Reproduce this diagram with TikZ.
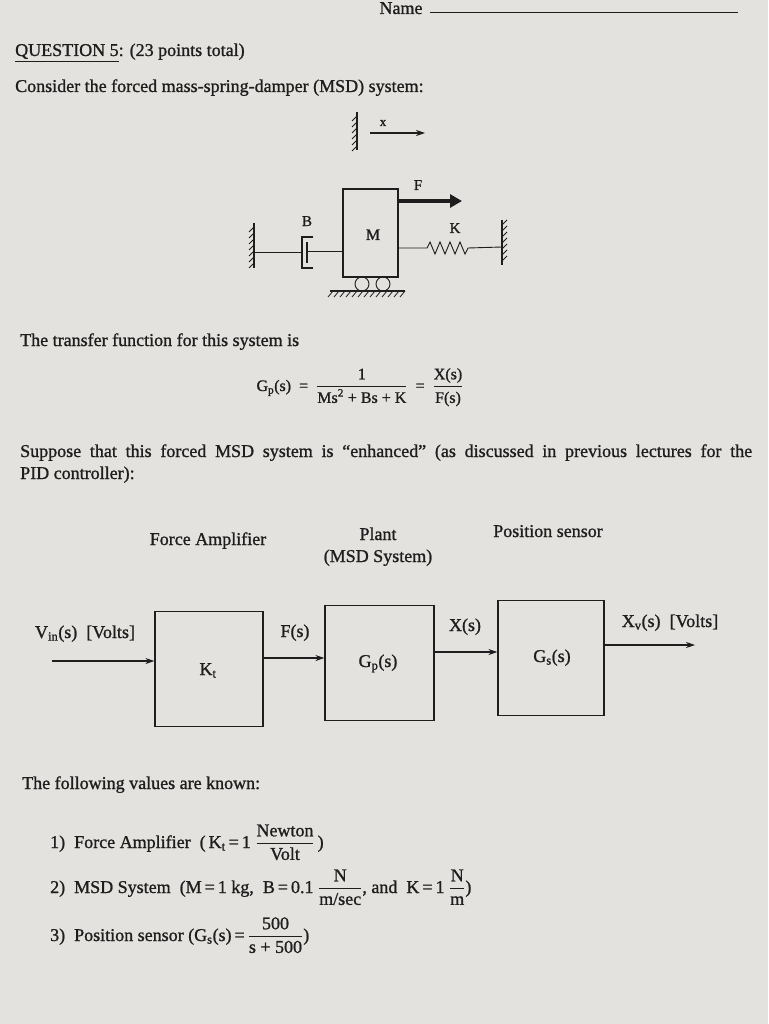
\documentclass[tikz,border=0pt]{standalone}
\usepackage{amsmath}
\usepackage{fontspec}
\setmainfont{Liberation Serif}[FakeBold=1.1,AutoFakeBold=1.1]
\usetikzlibrary{arrows.meta}
\definecolor{paper}{HTML}{E4E2DE}
\definecolor{ink}{HTML}{1E1E1E}
\begin{document}
\begin{tikzpicture}[x=1pt,y=-1pt,font=\fontsize{18}{21}\selectfont,color=ink,
  txt/.style={anchor=base west,inner sep=0},
  lbl/.style={anchor=base,inner sep=0},
  blk/.style={draw,line width=1.1pt,inner sep=0},
  sig/.style={line width=1.1pt,-{Stealth[length=9pt,width=6pt]}},
  hatch/.style={line width=0.8pt}]
\fill[paper] (0,0) rectangle (768,1024);
\useasboundingbox (0,0) rectangle (768,1024);
% header
\node[lbl] (name) at (401,14) {Name};
\coordinate (nl1) at (430,12); \coordinate (nl2) at (738,12);
\draw[line width=0.8pt] (nl1) -- (nl2);
\node[txt] (q) at (15,56) {\underline{QUESTION 5}: (23 points total)};
\node[txt] (c) at (15,92) {Consider the forced mass-spring-damper (MSD) system:};
% top reference wall and x arrow
\draw[line width=1.1pt] (357,112) -- (357,150);
\foreach \y in {116,122,...,150} \draw[hatch] (357,\y) -- (352,\y+5);
\coordinate (xa) at (370,133); \coordinate (xb) at (425,133);
\draw[sig] (xa) -- (xb);
\node[lbl,font=\fontsize{13}{15}\selectfont\bfseries] (xl) at (383,126) {x};
% mass
\node[blk,minimum width=55pt,minimum height=88pt] (M) at (370.5,233) {};
\node[lbl,font=\fontsize{16}{18}\selectfont] (Ml) at (373,240) {M};
% force
\coordinate (fa) at (398,201); \coordinate (fb) at (462,201);
\draw[line width=3.5pt,-{Triangle[length=12pt,width=13pt]}] (fa) -- (fb);
\node[lbl,font=\fontsize{15}{17}\selectfont] (Fl) at (418,190) {F};
% left wall and damper
\draw[line width=1.1pt] (254,223) -- (254,268);
\foreach \y in {227,233,...,268} \draw[hatch] (254,\y) -- (249,\y+5);
\draw[line width=0.9pt] (254,252) -- (302,252);
\draw[line width=1.1pt] (313,237) -- (302,237) -- (302,268) -- (313,268);
\draw[line width=1.1pt] (307,242) -- (307,263);
\draw[line width=0.9pt] (307,251) -- (343,251);
\node[lbl,font=\fontsize{15}{17}\selectfont] (Bl) at (307,226) {B};
% wheels and ground
\draw[line width=0.9pt] (362,284) circle (7) (383,284) circle (7);
\draw[line width=1.1pt] (330,291) -- (405,291);
\foreach \x in {333,339,...,405} \draw[hatch] (\x,291) -- (\x-5,297);
% spring and right wall
\draw[line width=0.9pt] (398,248) -- (427,248)
  -- (430,242) -- (435,254) -- (440,242) -- (445,254) -- (450,242) -- (455,254) -- (460,242) -- (465,254) -- (468,248)
  -- (502,247);
\draw[line width=1.1pt] (502,220) -- (502,265);
\foreach \y in {220,226,...,260} \draw[hatch] (502,\y+5) -- (507,\y);
\node[lbl,font=\fontsize{15}{17}\selectfont] (Kl) at (455,233) {K};
% transfer function
\node[txt] (tf) at (20,346) {The transfer function for this system is};
\node[anchor=base,inner sep=0,font=\fontsize{16}{19}\selectfont] (eq) at (360,391) {G$_\text{p}$(s)\ \ =\ \ $\dfrac{\text{1}}{\text{Ms\textsuperscript{2} + Bs + K}}$\ \ =\ \ $\dfrac{\text{X(s)}}{\text{F(s)}}$};
\node[txt] (s1) at (20,457) {\makebox[732pt][s]{Suppose that this forced MSD system is “enhanced” (as discussed in previous lectures for the}};
\node[txt] (s2) at (20,479) {PID controller):};
% block labels
\node[lbl] (fa1) at (208,545) {Force Amplifier};
\node[lbl] (pl1) at (378,540) {Plant};
\node[lbl] (pl2) at (378,562) {(MSD System)};
\node[lbl] (ps1) at (548,537) {Position sensor};
% blocks
\node[blk,minimum width=108pt,minimum height=115pt] (Kt) at (209,669) {};
\node[blk,minimum width=109pt,minimum height=115pt] (Gp) at (379.5,663) {};
\node[blk,minimum width=106pt,minimum height=115pt] (Gs) at (551,658) {};
\node[lbl] (Ktl) at (208,675) {K$_\text{t}$};
\node[lbl] (Gpl) at (378,667) {G$_\text{p}$(s)};
\node[lbl] (Gsl) at (552,662) {G$_\text{s}$(s)};
\coordinate (in) at (52,661);
\coordinate (out) at (695,645);
\draw[sig] (in) -- (Kt.west |- in);
\draw[sig] (Kt.east |- 0,658) -- (Gp.west |- 0,658);
\draw[sig] (Gp.east |- 0,652) -- (Gs.west |- 0,652);
\draw[sig] (Gs.east |- out) -- (out);
\node[lbl] (vin) at (85,638) {V$_\text{in}$(s)\ \ [Volts]};
\node[lbl] (fs) at (295,637) {F(s)};
\node[lbl] (xs) at (465,631) {X(s)};
\node[lbl] (xv) at (670,627) {X$_\text{v}$(s)\ \ [Volts]};
% values
\node[txt] (kn) at (22,789) {The following values are known:};
\node[txt] (v1) at (50,848) {1)\ \ Force Amplifier\ \ (\,K$_\text{t}$\,=\,1\ $\dfrac{\text{Newton}}{\text{Volt}}$\,)};
\node[txt] (v2) at (50,893) {2)\ \ MSD System\ \ (M\,=\,1 kg,\ \ B\,=\,0.1\ $\dfrac{\text{N}}{\text{m/sec}}$, and\ \ K\,=\,1\ $\dfrac{\text{N}}{\text{m}}$)};
\node[txt] (v3) at (50,941) {3)\ \ Position sensor (G$_\text{s}$(s)\,=\,$\dfrac{\text{500}}{\text{s + 500}}$)};
\end{tikzpicture}
\end{document}
